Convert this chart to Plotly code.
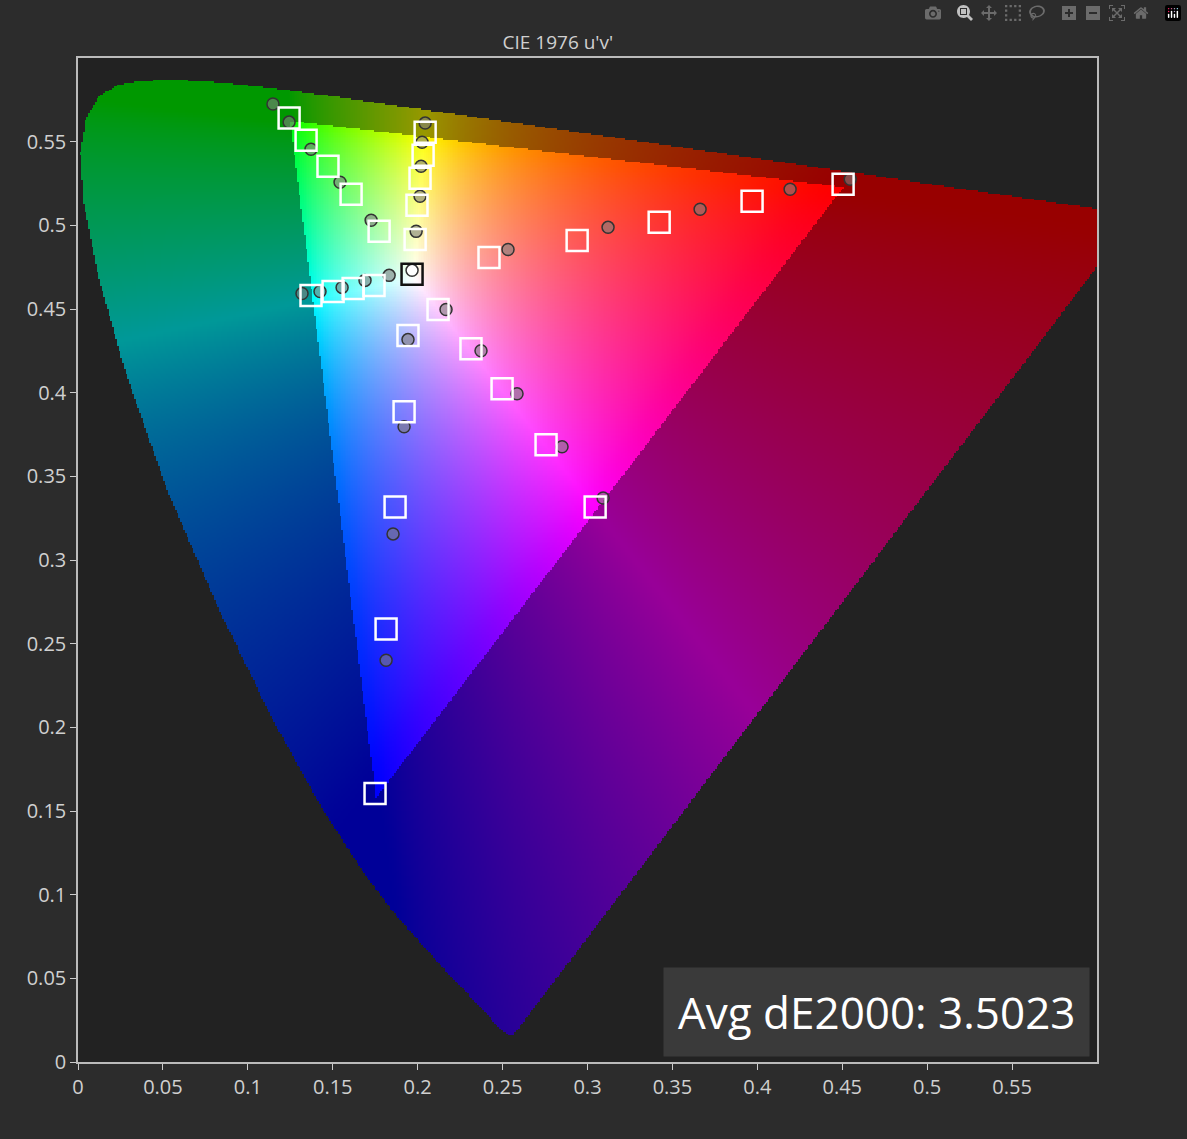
import numpy as np
import plotly.graph_objects as go

# Spectral locus (CIE 1931 xy)
locus_x = [0.1741,0.1733,0.1726,0.1714,0.1689,0.1644,0.1566,0.1440,0.1355,0.1241,0.1096,0.0913,0.0687,0.0454,0.0235,0.0082,0.0039,0.0139,0.0389,0.0743,0.1142,0.1547,0.1929,0.2296,0.2658,0.3016,0.3373,0.3731,0.4087,0.4441,0.4788,0.5125,0.5448,0.5752,0.6029,0.6270,0.6658,0.6915,0.7079,0.7190,0.7260,0.7334,0.7347]
locus_y = [0.0050,0.0048,0.0048,0.0051,0.0069,0.0109,0.0177,0.0297,0.0399,0.0578,0.0868,0.1327,0.2007,0.2950,0.4127,0.5384,0.6548,0.7502,0.8120,0.8338,0.8262,0.8059,0.7816,0.7543,0.7243,0.6923,0.6589,0.6245,0.5896,0.5547,0.5202,0.4866,0.4544,0.4242,0.3965,0.3725,0.3340,0.3083,0.2920,0.2809,0.2740,0.2666,0.2653]

# Target (squares) u'v'
tgt_u = [0.1243,0.1343,0.1472,0.1608,0.1773,
         0.1372,0.1502,0.1620,0.1743,
         0.2044,0.2032,0.2014,0.1996,0.1985,
         0.2420,0.2939,0.3422,0.3969,0.4505,
         0.2120,0.2314,0.2497,0.2756,0.3045,
         0.1943,0.1920,0.1867,0.1814,0.1749]
tgt_v = [0.5641,0.5509,0.5353,0.5186,0.4964,
         0.4581,0.4605,0.4623,0.4641,
         0.5557,0.5419,0.5281,0.5120,0.4916,
         0.4808,0.4910,0.5018,0.5144,0.5246,
         0.4497,0.4263,0.4024,0.3689,0.3317,
         0.4341,0.3886,0.3317,0.2587,0.1605]
white_tgt_u = [0.1967]
white_tgt_v = [0.4707]

# Measured (circles) u'v'
meas_u = [0.1148,0.1243,0.1372,0.1543,0.1726,
          0.1319,0.1425,0.1555,0.1690,0.1832,
          0.2044,0.2026,0.2020,0.2014,0.1991,
          0.2532,0.3121,0.3663,0.4193,0.4547,
          0.2167,0.2373,0.2585,0.2850,0.3092,
          0.1943,0.1920,0.1855,0.1814]
meas_v = [0.5725,0.5617,0.5455,0.5257,0.5030,
          0.4593,0.4605,0.4629,0.4671,0.4701,
          0.5611,0.5497,0.5353,0.5174,0.4964,
          0.4856,0.4988,0.5096,0.5216,0.5275,
          0.4497,0.4251,0.3994,0.3677,0.3371,
          0.4317,0.3796,0.3156,0.2401]
white_meas_u = [0.1967]
white_meas_v = [0.4731]

avg_de = "Avg dE2000: 3.5023"
tick_vals = [0,0.05,0.1,0.15,0.2,0.25,0.3,0.35,0.4,0.45,0.5,0.55]
tick_text = ["0","0.05","0.1","0.15","0.2","0.25","0.3","0.35","0.4","0.45","0.5","0.55"]

# --- build colour image of the chromaticity diagram ---
lx = np.array(locus_x); ly = np.array(locus_y)
den = -2*lx + 12*ly + 3
lu = 4*lx/den; lv = 9*ly/den

N = 600
step = 0.6 / N
cu = (np.arange(N) + 0.5) * step
U, V = np.meshgrid(cu, cu)

def inside(px, py, polx, poly):
    res = np.zeros(px.shape, bool)
    n = len(polx)
    j = n - 1
    for i in range(n):
        xi, yi, xj, yj = polx[i], poly[i], polx[j], poly[j]
        cond = ((yi > py) != (yj > py)) & (px < (xj - xi) * (py - yi) / (yj - yi + 1e-12) + xi)
        res ^= cond
        j = i
    return res

mask = inside(U, V, lu, lv)
d = 6*U - 16*V + 12
x = 9*U/d; y = 4*V/d
X = x/y; Y = np.ones_like(x); Z = (1-x-y)/y
M = np.array([[3.2406,-1.5372,-0.4986],[-0.9689,1.8758,0.0415],[0.0557,-0.2040,1.0570]])
rgb = np.stack([M[0,0]*X+M[0,1]*Y+M[0,2]*Z, M[1,0]*X+M[1,1]*Y+M[1,2]*Z, M[2,0]*X+M[2,1]*Y+M[2,2]*Z], -1)
ingamut = (rgb >= 0).all(-1)
rgb = np.clip(rgb, 0, None)
rgb = rgb / rgb.max(-1, keepdims=True)
rgb = rgb ** 1.6
srgb = np.where(rgb <= 0.0031308, 12.92*rgb, 1.055*np.power(rgb, 1/2.4) - 0.055)
srgb = srgb * np.where(ingamut, 1.0, 0.6)[..., None]
bg = np.array([34, 34, 34])
img = np.where(mask[..., None], srgb*255, bg).astype(np.uint8)

fig = go.Figure()
fig.add_trace(go.Image(z=img, x0=step/2, dx=step, y0=step/2, dy=step, hoverinfo="skip"))
fig.add_trace(go.Scatter(x=meas_u, y=meas_v, mode="markers",
    marker=dict(symbol="circle", size=12, color="rgba(125,125,125,0.6)", line=dict(color="#333333", width=1.5))))
fig.add_trace(go.Scatter(x=white_meas_u, y=white_meas_v, mode="markers",
    marker=dict(symbol="circle", size=12, color="#ffffff", line=dict(color="#333333", width=1.5))))
fig.add_trace(go.Scatter(x=tgt_u, y=tgt_v, mode="markers",
    marker=dict(symbol="square-open", size=21, color="#ffffff", line=dict(width=2.5))))
fig.add_trace(go.Scatter(x=white_tgt_u, y=white_tgt_v, mode="markers",
    marker=dict(symbol="square-open", size=21, color="#111111", line=dict(width=2.5))))

fig.add_annotation(x=0.993, y=0.005, xref="paper", yref="paper", xanchor="right", yanchor="bottom",
    text=avg_de, showarrow=False, font=dict(size=44, color="#ffffff", family="Open Sans"),
    bgcolor="#3a3a3a", borderpad=14)

axis_common = dict(range=[0, 0.6], tickvals=tick_vals, ticktext=tick_text, ticks="outside", ticklen=6,
                   tickcolor="#cccccc", showgrid=False, zeroline=False, showline=True, mirror=True,
                   linecolor="#bbbbbb", linewidth=1.5, tickfont=dict(size=20, color="#d0d0d0", family="Open Sans"))
fig.update_xaxes(**axis_common)
fig.update_yaxes(**axis_common, scaleanchor=False, autorange=False)
fig.update_layout(width=1187, height=1139, showlegend=False,
    paper_bgcolor="#2c2c2c", plot_bgcolor="#222222",
    margin=dict(l=78, r=90, t=58, b=77),
    title=dict(text="CIE 1976 u'v'", x=0.47, y=0.963, xanchor="center", yanchor="middle",
               font=dict(size=19, color="#d0d0d0", family="Open Sans")))
fig.write_html("out.html", post_script="document.body.style.margin='0';document.body.style.background='#2c2c2c';")
